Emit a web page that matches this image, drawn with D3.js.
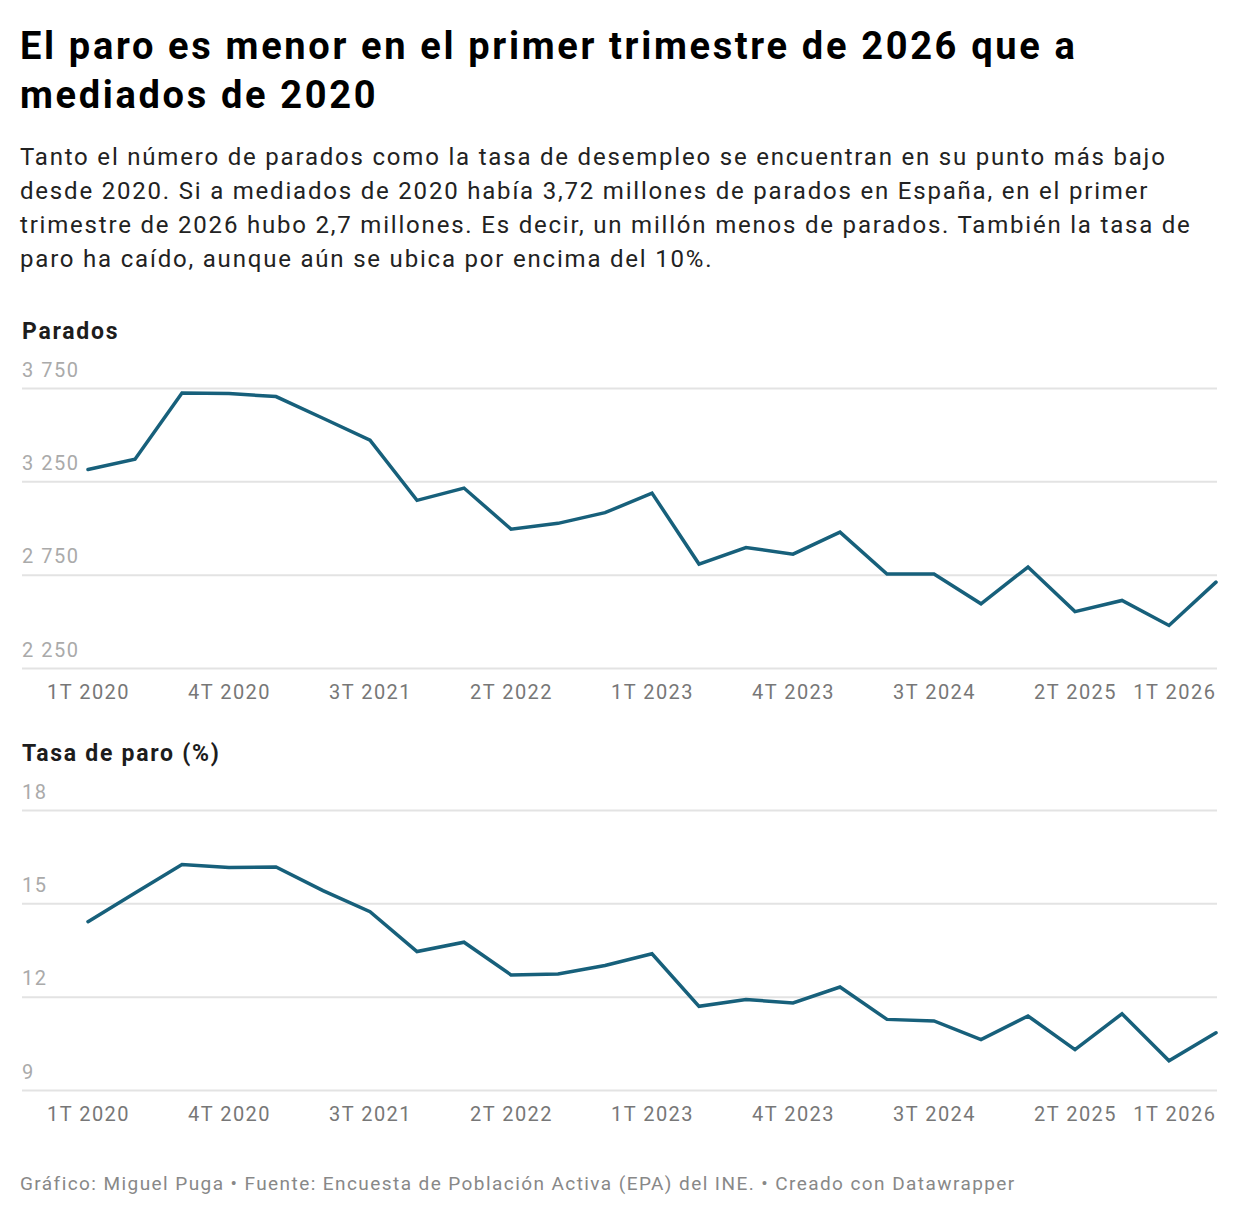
<!DOCTYPE html>
<html>
<head>
<meta charset="utf-8">
<script src="https://cdn.jsdelivr.net/npm/d3@7"></script>
<style>
  body { margin: 0; background: #fff; font-family: Roboto, "Noto Sans", sans-serif; }
  #chart { width: 1240px; height: 1216px; }
  svg text { letter-spacing: 0.075em; }
</style>
</head>
<body>
<div id="chart"></div>
<script>
// quarters shown on the x axis (1T 2020 ... 1T 2026)
var quarters = ["1T 2020","2T 2020","3T 2020","4T 2020",
                "1T 2021","2T 2021","3T 2021","4T 2021",
                "1T 2022","2T 2022","3T 2022","4T 2022",
                "1T 2023","2T 2023","3T 2023","4T 2023",
                "1T 2024","2T 2024","3T 2024","4T 2024",
                "1T 2025","2T 2025","3T 2025","4T 2025",
                "1T 2026"];
var tickQuarters = ["1T 2020","4T 2020","3T 2021","2T 2022","1T 2023","4T 2023","3T 2024","2T 2025","1T 2026"];

// parados (miles)
var parados = [3313, 3368, 3723, 3720, 3704, 3588, 3470, 3148, 3214, 2994, 3025, 3082, 3187,
               2807, 2895, 2860, 2978, 2753, 2753, 2594, 2791, 2552, 2612, 2478, 2710];
var paradosTicks = [2250, 2750, 3250, 3750];

// tasa de paro (%)
var tasa = [14.41, 15.33, 16.25, 16.15, 16.17, 15.41, 14.73, 13.45, 13.75, 12.70, 12.73, 13.00, 13.38,
            11.69, 11.91, 11.80, 12.31, 11.27, 11.22, 10.62, 11.38, 10.30, 11.45, 9.94, 10.84];
var tasaTicks = [9, 12, 15, 18];

var titleLines = ["El paro es menor en el primer trimestre de 2026 que a", "mediados de 2020"];
var subtitleLines = [
  "Tanto el número de parados como la tasa de desempleo se encuentran en su punto más bajo",
  "desde 2020. Si a mediados de 2020 había 3,72 millones de parados en España, en el primer",
  "trimestre de 2026 hubo 2,7 millones. Es decir, un millón menos de parados. También la tasa de",
  "paro ha caído, aunque aún se ubica por encima del 10%."
];
var footer = "Gráfico: Miguel Puga • Fuente: Encuesta de Población Activa (EPA) del INE. • Creado con Datawrapper";

var W = 1240, H = 1216;
var svg = d3.select("#chart").append("svg")
    .attr("width", W)
    .attr("height", H);

// title
svg.append("g").selectAll("text")
  .data(titleLines)
  .enter().append("text")
    .attr("x", 20)
    .attr("y", (d, i) => 59 + i * 49)
    .style("font-size", "38px")
    .style("font-weight", "700")
    .style("letter-spacing", "0.07em")
    .style("fill", "#000")
    .text(d => d);

// subtitle
svg.append("g").selectAll("text")
  .data(subtitleLines)
  .enter().append("text")
    .attr("x", 20)
    .attr("y", (d, i) => 165 + i * 34)
    .style("font-size", "24px")
    .style("fill", "#222")
    .text(d => d);

var x = d3.scalePoint()
    .domain(quarters)
    .range([88, 1216]);

function drawPanel(top, label, values, ticks) {
    var y = d3.scaleLinear()
        .domain([ticks[0], ticks[ticks.length - 1]])
        .range([top + 88 + 280, top + 88]);

    var g = svg.append("g");

    g.append("text")
        .attr("x", 22)
        .attr("y", top + 39)
        .style("font-size", "23px")
        .style("font-weight", "700")
        .style("fill", "#1d1d1d")
        .text(label);

    // gridlines + y labels
    var yAxis = g.append("g")
        .attr("transform", "translate(22,0)")
        .call(d3.axisRight(y).tickValues(ticks).tickSize(1195)
            .tickFormat(d => d3.format(",")(d).replace(/,/g, " ")));
    yAxis.select(".domain").remove();
    yAxis.selectAll(".tick line").attr("stroke", "#e3e3e3").attr("stroke-width", 2);
    yAxis.selectAll(".tick text")
        .attr("x", 0)
        .attr("dy", -12)
        .attr("text-anchor", "start")
        .style("font-family", "Roboto, sans-serif")
        .style("font-size", "20px")
        .style("fill", "#aaa");

    // x axis labels
    var xAxis = g.append("g")
        .attr("transform", "translate(0," + y(ticks[0]) + ")")
        .call(d3.axisBottom(x).tickValues(tickQuarters).tickSize(0).tickPadding(17));
    xAxis.select(".domain").remove();
    xAxis.selectAll(".tick text")
        .style("font-family", "Roboto, sans-serif")
        .style("font-size", "20px")
        .style("fill", "#777")
        .attr("text-anchor", (d, i) => i === tickQuarters.length - 1 ? "end" : "middle");

    var line = d3.line()
        .x((d, i) => x(quarters[i]))
        .y(d => y(d));

    g.append("path")
        .datum(values)
        .attr("d", line)
        .attr("fill", "none")
        .attr("stroke", "#17607b")
        .attr("stroke-width", 3.5)
        .attr("stroke-linejoin", "miter")
        .attr("stroke-linecap", "round");
}

drawPanel(300, "Parados", parados, paradosTicks);
drawPanel(722, "Tasa de paro (%)", tasa, tasaTicks);

svg.append("text")
    .attr("x", 20)
    .attr("y", 1190)
    .style("font-size", "19px")
    .style("fill", "#888")
    .text(footer);
</script>
</body>
</html>
